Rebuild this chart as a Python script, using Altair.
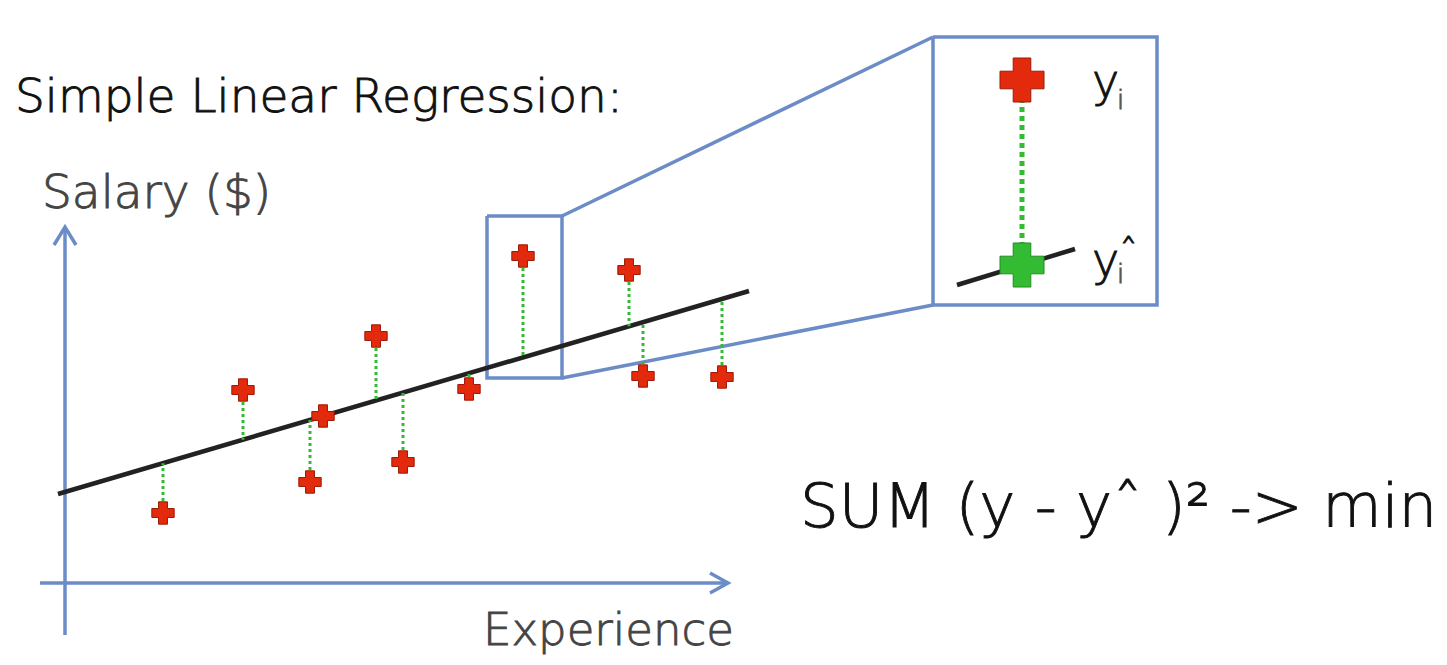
import altair as alt
import pandas as pd

# ---- data (image-pixel coordinate system: x to the right, y downward) ----
pt_x = [163, 243, 310, 323, 376, 403, 469, 523, 629, 643, 722]
pt_y = [513, 390, 482, 416, 336, 462, 389, 256, 270, 376, 377]

line_x = [58, 749]
line_y = [494, 291]

BLUE = "#6b8cc6"
RED = "#e42a0c"
RED_EDGE = "#9c1a06"
GREEN = "#34bb34"
GREEN_EDGE = "#1f8c1f"

W, H = 1431, 649
XS = alt.Scale(domain=[8, 8 + W])
YS = alt.Scale(domain=[8 + H, 8])


def X(f="x"):
    return alt.X(f + ":Q", scale=XS, axis=None)


def Y(f="y"):
    return alt.Y(f + ":Q", scale=YS, axis=None)


def yhat(x):
    return line_y[0] + (x - line_x[0]) * (line_y[1] - line_y[0]) / (line_x[1] - line_x[0])


pts = pd.DataFrame({"x": pt_x, "y": pt_y, "yh": [yhat(v) for v in pt_x]})

# axes (blue), arrows, zoom box, connectors as polylines
polys = []
def poly(name, xs, ys):
    for i, (a, b) in enumerate(zip(xs, ys)):
        polys.append({"g": name, "o": i, "x": a, "y": b})

poly("yaxis", [65, 65], [227, 635])
poly("yarrow", [54, 65, 76], [245, 227, 245])
poly("xaxis", [40, 728], [583, 583])
poly("xarrow", [710, 728, 710], [573, 583, 593])
poly("smallbox", [487, 562, 562, 487, 487], [216, 216, 378, 378, 216])
poly("bigbox", [933, 1157, 1157, 933, 933], [37, 37, 305, 305, 37])
poly("conn1", [562, 933], [216, 37])
poly("conn2", [562, 933], [378, 305])
polys = pd.DataFrame(polys)

blue_lines = alt.Chart(polys).mark_line(color=BLUE, strokeWidth=3.5, strokeJoin="miter", strokeCap="butt").encode(
    x=X(), y=Y(), detail="g:N", order="o:Q")

reg = pd.DataFrame({"x": line_x, "y": line_y})
reg_line = alt.Chart(reg).mark_line(color="#222222", strokeWidth=4.5).encode(x=X(), y=Y())

resid = alt.Chart(pts).mark_rule(color=GREEN, strokeWidth=3, strokeDash=[3, 3]).encode(
    x=X(), y=Y(), y2="yh:Q")

crosses = alt.Chart(pts).mark_point(shape="cross", filled=True, size=500, fill=RED,
                                    stroke=RED_EDGE, strokeWidth=1, opacity=1).encode(x=X(), y=Y())

# inset (zoomed) content
inset_line = pd.DataFrame({"x": [957, 1075], "y": [285, 249]})
inset_reg = alt.Chart(inset_line).mark_line(color="#222222", strokeWidth=4.5).encode(x=X(), y=Y())
inset_res = pd.DataFrame({"x": [1022], "y": [80], "yh": [265]})
inset_rule = alt.Chart(inset_res).mark_rule(color=GREEN, strokeWidth=5, strokeDash=[5, 4]).encode(
    x=X(), y=Y(), y2="yh:Q")
inset_red = alt.Chart(pd.DataFrame({"x": [1022], "y": [80]})).mark_point(
    shape="cross", filled=True, size=1936, fill=RED, stroke=RED_EDGE, strokeWidth=1, opacity=1).encode(x=X(), y=Y())
inset_green = alt.Chart(pd.DataFrame({"x": [1022], "y": [265]})).mark_point(
    shape="cross", filled=True, size=1936, fill=GREEN, stroke=GREEN_EDGE, strokeWidth=1, opacity=1).encode(x=X(), y=Y())

# texts
txt = pd.DataFrame({
    "t": ["Simple Linear Regression:", "Salary ($)", "Experience",
          "SUM (y - yˆ )² -> min", "y", "i", "y", "i", "ˆ"],
    "x": [15, 42, 483, 800, 1092, 1117, 1092, 1117, 1119],
    "y": [112, 208, 645, 527, 97, 109, 276, 283, 266],
    "fs": [47, 47, 45, 61, 46, 26, 46, 26, 38],
    "c": ["#111111", "#444444", "#444444", "#111111", "#111111", "#555555",
          "#111111", "#555555", "#111111"],
})
texts = alt.Chart(txt).mark_text(align="left", baseline="alphabetic", font="DejaVu Sans",
                                 fontWeight=300, strokeWidth=0.9).encode(
    x=X(), y=Y(), text="t:N",
    size=alt.Size("fs:Q", scale=None),
    color=alt.Color("c:N", scale=None),
    stroke=alt.Stroke("c:N", scale=None))

chart = alt.layer(
    blue_lines, reg_line, resid, crosses,
    inset_reg, inset_rule, inset_red, inset_green, texts
).properties(width=W, height=H, padding=0, background="white",
             autosize=alt.AutoSizeParams(type="none")).configure_view(stroke=None)

chart.save("out.html", embed_options={"renderer": "svg", "actions": False})
